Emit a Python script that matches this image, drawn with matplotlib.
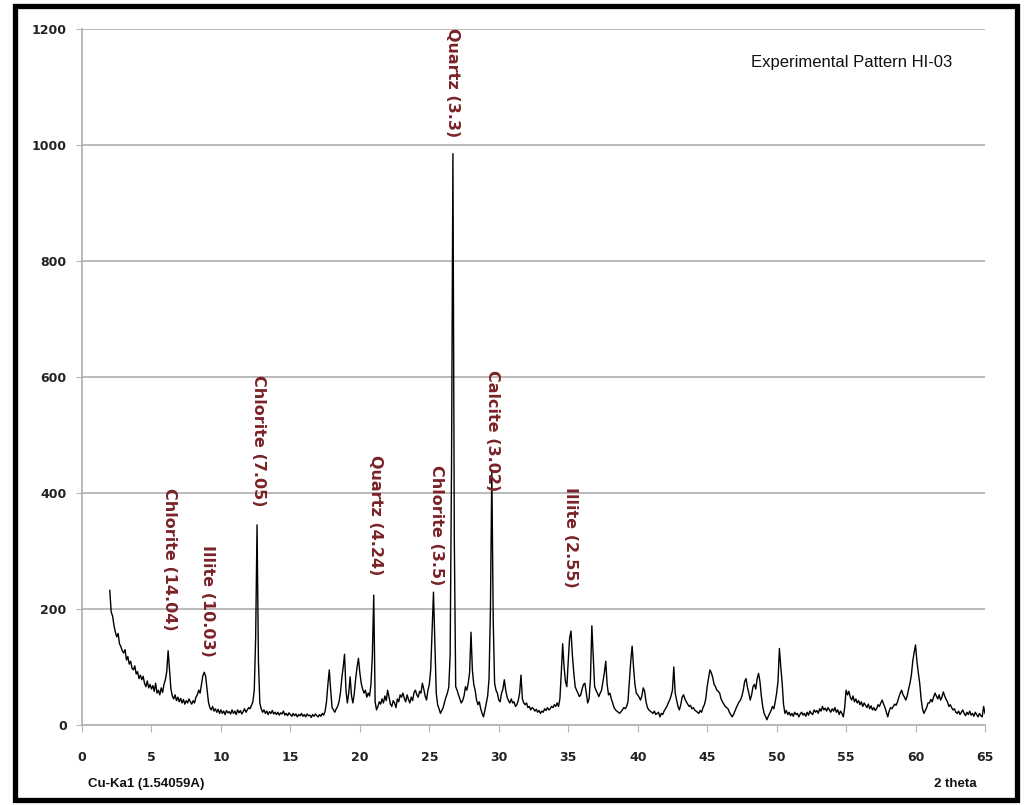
import numpy as np
import matplotlib.pyplot as plt
from matplotlib.patches import Rectangle

plt.rcParams["font.family"] = "DejaVu Sans"

# intensity, one row per degree (2.0 .. 65.0, step 0.1)
intensity = [
    232, 195, 188, 172, 160, 152, 158, 140, 135, 128,   # 2
    124, 130, 112, 118, 105, 110, 98, 95, 102, 88,      # 3
    92, 80, 86, 78, 84, 72, 66, 76, 64, 70,             # 4
    62, 68, 58, 72, 55, 60, 52, 64, 56, 70,             # 5
    78, 92, 128, 95, 62, 50, 45, 52, 42, 48,            # 6
    40, 46, 38, 44, 36, 42, 38, 45, 40, 36,             # 7
    42, 38, 48, 52, 60, 55, 70, 85, 91, 84,             # 8
    62, 40, 30, 26, 32, 24, 28, 22, 27, 20,             # 9
    26, 20, 24, 18, 25, 21, 23, 19, 26, 20,             # 10
    24, 18, 26, 21, 25, 19, 23, 28, 22, 26,             # 11
    30, 28, 34, 40, 60, 150, 345, 110, 38, 28,          # 12
    22, 26, 20, 24, 18, 23, 20, 25, 19, 22,             # 13
    18, 22, 17, 21, 19, 24, 17, 20, 16, 21,             # 14
    18, 15, 20, 16, 19, 14, 18, 16, 20, 15,             # 15
    18, 14, 19, 16, 17, 13, 18, 15, 19, 16,             # 16
    14, 18, 15, 20, 17, 24, 40, 70, 95, 60,             # 17
    30, 26, 22, 28, 32, 40, 55, 80, 100, 122,           # 18
    60, 38, 55, 83, 50, 38, 55, 80, 100, 115,           # 19
    90, 72, 62, 55, 60, 48, 55, 50, 70, 120,            # 20
    224, 40, 26, 32, 40, 36, 45, 38, 50, 42,            # 21
    60, 48, 36, 32, 42, 38, 30, 45, 40, 52,             # 22
    48, 55, 46, 40, 52, 44, 38, 48, 42, 56,             # 23
    60, 52, 48, 58, 55, 72, 62, 50, 43, 60,             # 24
    70, 95, 160, 229, 140, 55, 35, 28, 20, 25,          # 25
    30, 40, 48, 55, 65, 120, 450, 985, 320, 66,         # 26
    60, 52, 45, 38, 42, 50, 66, 60, 72, 90,             # 27
    160, 95, 70, 60, 43, 35, 40, 28, 20, 14,            # 28
    25, 38, 50, 80, 200, 440, 180, 72, 60, 55,          # 29
    43, 40, 55, 62, 78, 60, 48, 42, 38, 45,             # 30
    38, 40, 32, 35, 42, 55, 86, 45, 38, 35,             # 31
    38, 30, 32, 26, 30, 28, 24, 27, 22, 25,             # 32
    20, 24, 22, 28, 25, 30, 26, 28, 32, 30,             # 33
    35, 32, 38, 32, 45, 90, 140, 100, 75, 66,           # 34
    110, 150, 162, 120, 90, 66, 60, 55, 49, 52,         # 35
    62, 70, 72, 55, 38, 45, 80, 171, 120, 66,           # 36
    60, 55, 49, 55, 60, 75, 90, 110, 70, 52,            # 37
    55, 45, 38, 30, 26, 24, 22, 20, 23, 26,             # 38
    30, 28, 32, 40, 75, 110, 136, 100, 70, 55,          # 39
    52, 48, 43, 50, 64, 58, 40, 30, 26, 24,             # 40
    22, 20, 24, 18, 20, 22, 14, 20, 18, 24,             # 41
    28, 32, 38, 43, 50, 60, 100, 55, 43, 32,            # 42
    26, 35, 48, 52, 45, 40, 36, 32, 34, 28,             # 43
    30, 26, 24, 22, 20, 25, 22, 30, 35, 45,             # 44
    66, 80, 95, 90, 82, 70, 66, 60, 58, 55,             # 45
    45, 40, 36, 32, 30, 28, 22, 18, 14, 18,             # 46
    24, 30, 35, 40, 43, 50, 60, 75, 80, 65,             # 47
    55, 43, 52, 66, 70, 62, 80, 89, 75, 50,             # 48
    32, 20, 15, 9, 15, 20, 25, 32, 28, 40,              # 49
    55, 75, 132, 100, 72, 35, 20, 25, 18, 22,           # 50
    16, 20, 15, 22, 18, 20, 14, 19, 22, 17,             # 51
    20, 15, 22, 17, 24, 20, 18, 26, 22, 25,             # 52
    20, 28, 24, 32, 26, 29, 24, 30, 26, 22,             # 53
    28, 24, 30, 22, 26, 18, 24, 20, 14, 30,             # 54
    60, 52, 58, 48, 43, 50, 40, 45, 38, 42,             # 55
    35, 40, 32, 38, 34, 30, 36, 28, 33, 26,             # 56
    30, 25, 28, 35, 32, 38, 43, 36, 30, 22,             # 57
    14, 24, 30, 28, 32, 36, 34, 40, 48, 55,             # 58
    60, 52, 48, 43, 50, 62, 72, 86, 110, 125,           # 59
    138, 110, 90, 72, 45, 28, 20, 25, 30, 38,           # 60
    38, 44, 40, 48, 55, 50, 45, 52, 43, 48,             # 61
    57, 50, 44, 40, 32, 35, 30, 26, 28, 22,             # 62
    20, 24, 18, 22, 26, 20, 16, 22, 18, 24,             # 63
    17, 20, 15, 22, 18, 14, 20, 16, 14, 32,             # 64
    20,                                                 # 65
]
two_theta = np.round(2.0 + 0.1 * np.arange(len(intensity)), 1)

peak_names = ["Chlorite (14.04)", "Illite (10.03)", "Chlorite (7.05)", "Quartz (4.24)",
              "Chlorite (3.5)", "Quartz (3.3)", "Calcite (3.02)", "Illite (2.55)"]
peak_pos = [6.3, 9.0, 12.67, 21.1, 25.55, 26.65, 29.52, 35.13]
label_top = [409, 310, 603, 466, 448, 1202, 612, 410]

W, H = 1031, 805
fig = plt.figure(figsize=(W / 100, H / 100), dpi=100)
ax = fig.add_axes([82 / W, 1 - 725 / H, (985 - 82) / W, (725 - 29) / H])

ax.plot(two_theta, intensity, color="black", lw=1.0)

ax.set_xlim(0, 65)
ax.set_ylim(0, 1200)
ax.set_xticks(range(0, 66, 5))
ax.set_yticks(range(0, 1201, 200))
ax.grid(axis="y", color="#b4b4b4", lw=1.3)
ax.set_axisbelow(True)
for s in ["top", "right"]:
    ax.spines[s].set_visible(False)
for s in ["left", "bottom"]:
    ax.spines[s].set_color("#b4b4b4")
    ax.spines[s].set_linewidth(1.3)
ax.tick_params(axis="x", length=5, pad=13.5, color="#b4b4b4", labelsize=9, labelcolor="#222222")
ax.tick_params(axis="y", length=4, pad=7, color="#b4b4b4", labelsize=9, labelcolor="#222222")
for lbl in ax.get_xticklabels() + ax.get_yticklabels():
    lbl.set_fontweight("bold")

for name, x, top in zip(peak_names, peak_pos, label_top):
    ax.text(x, top, name, rotation=-90, ha="center", va="top", color="#7a2228",
            fontsize=11.5, fontweight="bold")

narrow = ["Liberation Sans Narrow", "Liberation Sans", "DejaVu Sans"]
fig.text(952 / W, 1 - 62 / H, "Experimental Pattern HI-03", ha="right", va="center",
         fontsize=12, family=narrow, color="#111111")
fig.text(88 / W, 1 - 784 / H, "Cu-Ka1 (1.54059A)", ha="left", va="center",
         fontsize=9.5, family=narrow, fontweight="bold", color="#111111")
fig.text(977 / W, 1 - 784 / H, "2 theta", ha="right", va="center",
         fontsize=9.5, family=narrow, fontweight="bold", color="#111111")

# black frame round the whole picture
fig.patches.append(Rectangle((14.5 / W, 1 - 800 / H), (1017 - 14.5) / W, (800 - 6) / H,
                             transform=fig.transFigure, fill=False, ec="black", lw=3.8))

fig.savefig("out.png", dpi=100)
